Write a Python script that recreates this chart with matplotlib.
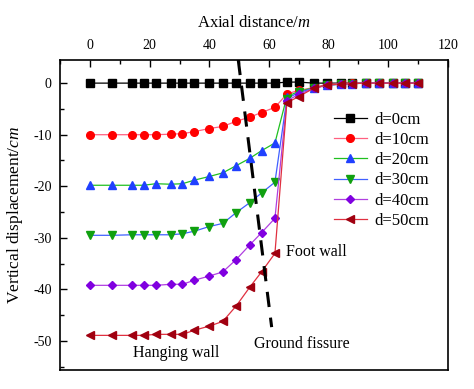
import matplotlib.pyplot as plt
from matplotlib.ticker import MultipleLocator

plt.rcParams['font.family'] = ['Liberation Serif', 'DejaVu Serif']
plt.rcParams['mathtext.fontset'] = 'custom'
plt.rcParams['mathtext.it'] = 'Liberation Serif:italic'
plt.rcParams['mathtext.rm'] = 'Liberation Serif'
plt.rcParams['axes.unicode_minus'] = False

# axial positions of measuring points (m)
dist = [0, 7.5, 14, 18, 22, 27, 31, 35, 40, 44.5, 49, 53.5, 57.5, 62, 66, 70,
        75, 79.5, 84, 88, 92.5, 97, 101.5, 105.5, 110]

d0 = [0, 0, 0, 0, 0, 0, 0, 0, 0, 0, 0, 0, 0, 0, 0.2, 0.2,
      0, 0, 0, 0, 0, 0, 0, 0, 0]
d10 = [-10.0, -10.0, -10.0, -10.0, -10.0, -9.9, -9.8, -9.4, -8.8, -8.4, -7.4, -6.6, -5.7, -4.7, -2.1, -1.4,
       -0.85, -0.3, -0.1, 0, 0, 0, 0, 0, 0]
d20 = [-19.8, -19.8, -19.8, -19.8, -19.5, -19.6, -19.5, -18.8, -18.1, -17.4, -16.0, -14.6, -13.1, -11.6, -2.6, -1.6,
       -0.9, -0.4, -0.2, -0.1, 0, 0, 0, 0, 0]
d30 = [-29.5, -29.5, -29.4, -29.4, -29.4, -29.4, -29.2, -28.7, -27.8, -27.2, -25.1, -23.2, -21.3, -19.2, -3.0, -1.8,
       -1.0, -0.4, -0.2, -0.1, 0, 0, 0, 0, 0]
d40 = [-39.2, -39.2, -39.2, -39.2, -39.2, -39.0, -39.0, -38.2, -37.4, -36.6, -34.2, -31.4, -29.0, -26.2, -3.4, -2.2,
       -1.0, -0.4, -0.2, -0.1, 0, 0, 0, 0, 0]
d50 = [-48.9, -48.9, -48.9, -48.9, -48.7, -48.7, -48.7, -47.9, -47.1, -46.2, -43.2, -39.6, -36.6, -33.0, -3.8, -2.6,
       -1.0, -0.3, -0.2, -0.1, 0, 0, 0, 0, 0]

series = [
    ('d=0cm', d0, 's', 'black', 'black'),
    ('d=10cm', d10, 'o', 'red', '#ff6080'),
    ('d=20cm', d20, '^', '#2040ff', '#20c020'),
    ('d=30cm', d30, 'v', '#10a010', '#4060ff'),
    ('d=40cm', d40, 'D', '#8000e0', '#b040e0'),
    ('d=50cm', d50, '<', '#a00010', '#e03040'),
]

# ground fissure trace
fissure_x = [49.7, 60.9]
fissure_y = [4.5, -47.3]

fig = plt.figure(figsize=(4.74, 3.89), dpi=100)
ax = fig.add_axes([0.127, 0.049, 0.818, 0.797])

for label, vals, mk, mcol, lcol in series:
    ms = 4.5 if mk == 'D' else 5.5
    ax.plot(dist, vals, color=lcol, lw=0.9, marker=mk, markersize=ms,
            markerfacecolor=mcol, markeredgecolor=mcol, label=label)

ax.plot(fissure_x, fissure_y, color='black', lw=2.2, dashes=(5, 3.5))

ax.set_xlim(-10, 120)
ax.set_ylim(-55.6, 4.5)
ax.xaxis.tick_top()
ax.xaxis.set_label_position('top')
ax.xaxis.set_major_locator(MultipleLocator(20))
ax.xaxis.set_minor_locator(MultipleLocator(10))
ax.yaxis.set_major_locator(MultipleLocator(10))
ax.yaxis.set_minor_locator(MultipleLocator(5))
ax.tick_params(which='both', direction='in', labelsize=10, top=True, bottom=False,
               left=True, right=False)
ax.tick_params(which='major', length=5, width=1, pad=6)
ax.tick_params(which='minor', length=3, width=1)
ax.set_yticks([0, -10, -20, -30, -40, -50])
ax.set_yticklabels(['0', '-10', '-20', '-30', '-40', '-50'])
for s in ax.spines.values():
    s.set_linewidth(1.2)

ax.set_xlabel('Axial distance/$m$', fontsize=12, labelpad=8)
ax.set_ylabel('Vertical displacement/$cm$', fontsize=12.5, labelpad=6)

ax.text(65.8, -32.8, 'Foot wall', fontsize=11.5, va='center')
ax.text(55, -50.6, 'Ground fissure', fontsize=11.5, va='center')
ax.text(14.4, -52.4, 'Hanging wall', fontsize=11.5, va='center')

ax.legend(loc='upper left', bbox_to_anchor=(0.675, 0.87), frameon=False,
          fontsize=12, handlelength=2.0, labelspacing=0.25, borderpad=0.2,
          handletextpad=0.45)

fig.savefig('out.png', dpi=100)
